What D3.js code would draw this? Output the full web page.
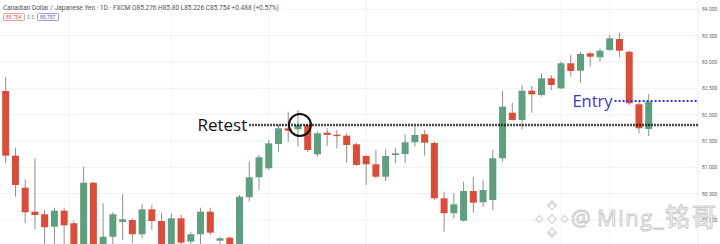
<!DOCTYPE html>
<html>
<head>
<meta charset="utf-8">
<script src="https://cdn.jsdelivr.net/npm/d3@7"></script>
<style>
body{margin:0;background:#fff;}
svg{display:block;}
</style>
</head>
<body>
<script>
// CAD/JPY daily candles
var opens  = [82.449,81.221,80.614,80.158,80.109,79.873,80.177,79.938,79.051,80.708,79.24,79.683,79.962,80.0,79.729,80.203,79.981,79.393,80.033,79.589,79.729,80.158,79.607,79.664,79.24,80.431,80.811,80.982,81.443,81.741,81.722,81.804,81.248,81.658,81.620,81.601,81.437,81.215,81.058,80.822,81.234,81.253,81.475,81.627,81.462,80.412,80.128,79.987,80.551,80.336,80.380,81.172,82.037,81.899,82.455,82.373,82.690,82.500,82.975,82.834,83.165,83.089,83.227,83.436,83.195,82.197,81.728];
var highs  = [82.721,81.373,80.773,81.172,80.190,80.234,80.234,79.987,81.012,80.720,80.317,80.147,80.488,80.033,80.304,80.285,80.139,80.114,80.095,79.778,80.234,80.234,79.683,79.683,80.475,81.107,81.234,81.519,81.804,82.056,82.088,81.823,81.677,81.741,81.709,81.646,81.468,81.234,81.329,81.342,81.373,81.627,81.771,81.709,81.487,80.538,80.507,80.727,80.822,80.760,81.329,82.455,82.227,82.563,82.544,82.785,82.753,83.005,83.132,83.195,83.195,83.260,83.512,83.556,83.214,82.246,82.392];
var lows   = [81.077,80.443,79.938,79.824,79.431,79.336,79.469,78.956,78.86,78.956,79.146,79.431,79.621,79.558,79.653,79.811,79.28,79.279,79.393,79.469,79.526,79.710,79.507,79.317,79.2,80.348,80.570,80.949,81.297,81.487,81.392,81.29,81.202,81.405,81.361,81.088,81.025,80.665,80.792,80.741,81.077,81.077,81.392,81.225,80.380,79.778,80.033,79.968,80.139,80.253,80.190,81.107,81.885,81.722,82.037,82.341,82.468,82.481,82.721,82.607,82.910,83.005,83.214,83.089,82.183,81.646,81.595];
var closes = [81.221,80.665,80.147,80.095,79.862,80.177,79.900,79.146,80.708,79.09,79.683,80.109,80.014,79.729,80.203,79.981,79.39,80.033,79.569,79.729,80.158,79.759,79.653,79.431,80.443,80.811,81.191,81.456,81.741,81.696,81.804,81.329,81.646,81.614,81.601,81.424,81.044,81.058,80.822,81.215,81.267,81.475,81.614,81.468,80.412,80.128,80.298,80.551,80.329,80.570,81.172,82.151,81.899,82.455,82.386,82.690,82.563,82.975,82.829,83.151,83.100,83.214,83.450,83.214,82.216,81.741,82.246];

var priceTicks = [80, 80.5, 81, 81.5, 82, 82.5, 83, 83.5, 84];
var gridIdx = [6.5, 17, 27, 37, 57, 62];

var retestLevel = 81.804, retestFrom = 25, retestCandle = 30.2;
var entryLevel = 82.259, entryFrom = 62.5;

var titleText = "Canadian Dollar / Japanese Yen · 1D · FXCM";
var ohlcText = "O85.276 H85.80 L85.226 C85.754 +0.488 (+0.57%)";

var width = 720, height = 244,
    axisX = 698,
    bodyW = 7;

var svg = d3.select("body").append("svg")
    .attr("width", width)
    .attr("height", height);

var x = d3.scaleLinear().domain([0, opens.length - 1]).range([5.7, 648.7]);
var y = d3.scaleLinear().domain([80, 84]).range([220, 9.3]);

// grid
svg.append("g").selectAll("line.h")
    .data(priceTicks).enter().append("line")
    .attr("x1", 0).attr("x2", axisX)
    .attr("y1", function(d){ return y(d); })
    .attr("y2", function(d){ return y(d); })
    .attr("stroke", "#f1f1f1");
svg.append("g").selectAll("line.v")
    .data(gridIdx).enter().append("line")
    .attr("x1", function(d){ return x(d); })
    .attr("x2", function(d){ return x(d); })
    .attr("y1", 0).attr("y2", height)
    .attr("stroke", "#f3f3f3");
svg.append("line")
    .attr("x1", axisX).attr("x2", axisX)
    .attr("y1", 0).attr("y2", height)
    .attr("stroke", "#eeeeee");

// right price axis
var yAxis = d3.axisRight(y)
    .tickValues(priceTicks)
    .tickFormat(d3.format(".3f"))
    .tickSize(0)
    .tickPadding(4);
var ax = svg.append("g").attr("transform", "translate(" + axisX + ",0)").call(yAxis);
ax.select(".domain").remove();
ax.selectAll("text")
    .attr("fill", "#666")
    .style("font-family", "Roboto, sans-serif")
    .style("font-size", "5px");

// watermark
var wm = svg.append("g").attr("fill", "#fff").attr("stroke", "#cdcdcd").attr("stroke-width", 1);
var logo = wm.append("g").attr("transform", "translate(552,219) rotate(45)");
logo.append("rect").attr("x", -3).attr("y", -3).attr("width", 6).attr("height", 6);
[[-9,-9],[9,-9],[-9,9],[9,9]].forEach(function(p){
    logo.append("rect").attr("x", p[0]-2.5).attr("y", p[1]-2.5).attr("width", 5).attr("height", 5);
});
logo.append("path").attr("d", "M-6,-13 L-13,-13 L-13,-6 M6,13 L13,13 L13,6").attr("fill", "none");
wm.append("text").attr("x", 571).attr("y", 226)
    .style("font-family", "'Open Sans', sans-serif").style("font-size", "22px")
    .text("@");
var wt = wm.append("text").attr("x", 597).attr("y", 226)
    .style("font-family", "'Open Sans', 'Noto Sans CJK SC', sans-serif")
    .style("letter-spacing", "1.5px");
wt.append("tspan").style("font-size", "22px").text("Ming_");
wt.append("tspan").style("font-size", "25px").text("铭哥");

// candles
var candles = svg.append("g").selectAll("g")
    .data(opens).enter().append("g");

candles.append("line")
    .attr("x1", function(d, i){ return x(i); })
    .attr("x2", function(d, i){ return x(i); })
    .attr("y1", function(d, i){ return y(highs[i]); })
    .attr("y2", function(d, i){ return y(lows[i]); })
    .attr("stroke", "#8f8f8f")
    .attr("stroke-width", 1);

candles.append("rect")
    .attr("x", function(d, i){ return x(i) - bodyW / 2; })
    .attr("y", function(d, i){ return y(Math.max(opens[i], closes[i])); })
    .attr("width", bodyW)
    .attr("height", function(d, i){ return Math.max(1.5, Math.abs(y(opens[i]) - y(closes[i]))); })
    .attr("fill", function(d, i){ return closes[i] >= opens[i] ? "#5f9f80" : "#da4d3b"; });

// retest level
svg.append("line")
    .attr("x1", x(retestFrom)).attr("x2", axisX)
    .attr("y1", y(retestLevel)).attr("y2", y(retestLevel))
    .attr("stroke", "#111")
    .attr("stroke-width", 2.5)
    .attr("stroke-dasharray", "1.5,1.5");
svg.append("text")
    .attr("x", x(retestFrom) - 2).attr("y", y(retestLevel) + 6)
    .attr("text-anchor", "end")
    .attr("fill", "#111")
    .style("font-family", "'Open Sans', sans-serif")
    .style("font-size", "17px")
    .text("Retest");
svg.append("circle")
    .attr("cx", x(retestCandle)).attr("cy", y(retestLevel))
    .attr("r", 11)
    .attr("fill", "none")
    .attr("stroke", "#111")
    .attr("stroke-width", 2);

// entry level
svg.append("line")
    .attr("x1", x(entryFrom)).attr("x2", axisX)
    .attr("y1", y(entryLevel)).attr("y2", y(entryLevel))
    .attr("stroke", "#3838c8")
    .attr("stroke-width", 2)
    .attr("stroke-dasharray", "2,2");
svg.append("text")
    .attr("x", x(entryFrom) - 2).attr("y", y(entryLevel) + 5.5)
    .attr("text-anchor", "end")
    .attr("fill", "#3838c8")
    .style("font-family", "'Open Sans', sans-serif")
    .style("font-size", "16.5px")
    .text("Entry");

// header
var head = svg.append("g")
    .style("font-family", "Roboto, sans-serif")
    .style("font-size", "6.5px");
head.append("text").attr("x", 3).attr("y", 10).attr("fill", "#555")
    .text(titleText + "   " + ohlcText);
head.append("rect").attr("x", 3.5).attr("y", 13.5).attr("width", 21).attr("height", 7)
    .attr("fill", "#fff").attr("stroke", "#e57b70").attr("stroke-width", 0.7).attr("rx", 1);
head.append("text").attr("x", 6).attr("y", 19).attr("fill", "#d9534f").style("font-size", "5px").text("85.754");
head.append("text").attr("x", 27).attr("y", 19).attr("fill", "#888").style("font-size", "5px").text("0.5");
head.append("rect").attr("x", 37.5).attr("y", 13.5).attr("width", 21).attr("height", 7)
    .attr("fill", "#fff").attr("stroke", "#6b6be0").attr("stroke-width", 0.7).attr("rx", 1);
head.append("text").attr("x", 40).attr("y", 19).attr("fill", "#4a4ad6").style("font-size", "5px").text("85.757");
</script>
</body>
</html>
